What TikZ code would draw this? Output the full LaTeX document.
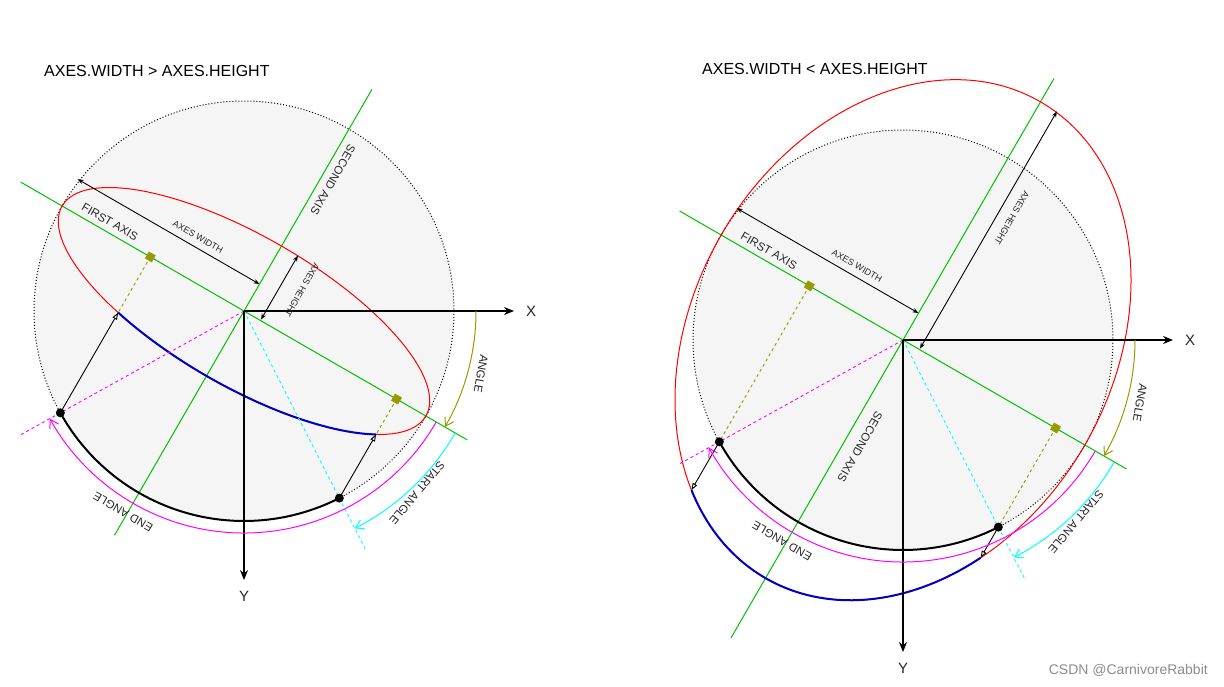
\documentclass[tikz,border=0pt]{standalone}
\usepackage{fontspec}
\setmainfont{Liberation Sans}
\usetikzlibrary{arrows.meta}
\definecolor{gr}{HTML}{00C000}
\definecolor{ol}{HTML}{999900}
\definecolor{bl}{HTML}{0000C0}
\definecolor{mg}{HTML}{FF00FF}
\definecolor{cy}{HTML}{00FFFF}
\tikzset{
  axisarrow/.style={line width=1.2pt,-{Stealth[length=10pt,width=8pt]}},
  dimarrow/.style={line width=0.9pt,{Stealth[length=6pt,width=4.5pt]}-{Stealth[length=6pt,width=4.5pt]}},
  projarrow/.style={line width=0.9pt,-{Triangle[open,length=7pt,width=5pt]}},
  anglearc/.style={line width=1pt,-{Straight Barb[length=8pt,width=10pt]}},
  lab/.style={font=\fontsize{11.5}{13}\selectfont,text=black!85,inner sep=0pt},
  smalllab/.style={font=\fontsize{9}{10}\selectfont,text=black!85,inner sep=0pt},
  dotpt/.style={circle,fill=black,inner sep=0pt,minimum size=9pt},
  sq/.style={fill=ol,inner sep=0pt,minimum size=8pt,rotate=-30},
}
\newcommand{\mydiag}[6]{% cx cy b ylen secondaxis dashedtarget
\begin{scope}[shift={(#1,#2)}]
  \coordinate (C) at (0,0);
  \fill[black!4] (C) circle[radius=210];
  \draw[dotted,line width=1pt] (C) circle[radius=210];
  \begin{scope}[rotate=-30]
    \draw[gr,line width=1pt] (-258,0) coordinate (fa1) -- (258,0) coordinate (fa2);
    #5
    \draw[red,line width=1pt] (C) ellipse[x radius=210,y radius=#3];
    \draw[bl,line width=2pt] plot[domain=33:121,samples=60] ({210*cos(\x)},{#3*sin(\x)});
    \coordinate (P1) at ({210*cos(121)},{210*sin(121)});
    \coordinate (P2) at ({210*cos(33)},{210*sin(33)});
    \coordinate (E1) at ({210*cos(121)},{#3*sin(121)});
    \coordinate (E2) at ({210*cos(33)},{#3*sin(33)});
    \coordinate (S1) at ({210*cos(121)},0);
    \coordinate (S2) at ({210*cos(33)},0);
    \coordinate (W1) at (-210,-31);
    \coordinate (W2) at (0,-31);
    \coordinate (H1) at (19,-1);
    \coordinate (H2) at (19,{-#3});
  \end{scope}
  \draw[mg,dashed,line width=0.9pt] (C) -- (151:256) coordinate (md);
  \draw[cy,dashed,line width=0.9pt] (C) -- (63:268) coordinate (cd);
  \draw[line width=2pt] plot[domain=63:151,samples=60] ({210*cos(\x)},{210*sin(\x)});
  \draw[ol,dashed,line width=0.9pt] (S1) -- (#61) (S2) -- (#62);
  \node[sq] (sq1) at (S1) {};
  \node[sq] (sq2) at (S2) {};
  \draw[projarrow] (P1) -- (E1);
  \draw[projarrow] (P2) -- (E2);
  \node[dotpt] (d1) at (P1) {};
  \node[dotpt] (d2) at (P2) {};
  \draw[dimarrow] (W1) -- (W2);
  \draw[dimarrow] (H1) -- (H2);
  \draw[axisarrow] (C) -- (270,0) coordinate (xe);
  \node[lab,font=\fontsize{15}{17}\selectfont] (xl) at (287,0) {X};
  \draw[axisarrow] (C) -- (0,#4) coordinate (ye);
  \node[lab,font=\fontsize{15}{17}\selectfont] (yl) at (0,{#4+16}) {Y};
  \draw[ol,anglearc] (0:232) arc[start angle=0,end angle=30,radius=232];
  \draw[mg,anglearc] (30:222) arc[start angle=30,end angle=151,radius=222];
  \draw[cy,anglearc] (30:244) arc[start angle=30,end angle=63,radius=244];
  \node[lab,rotate=-30] (fal) at (-134,-89) {FIRST AXIS};
  \node[smalllab,rotate=-30] (awl) at (-46,-74) {AXES WIDTH};
  \node[lab,rotate=-100] (agl) at (237,63) {ANGLE};
  \node[lab,rotate=-130] (sal) at (173,182) {START ANGLE};
  \node[lab,rotate=150] (eal) at (-121,201) {END ANGLE};
\end{scope}}
\begin{document}
\begin{tikzpicture}[x=1pt,y=-1pt]
\useasboundingbox (0,0) rectangle (1224,687);
\node[anchor=west,font=\fontsize{16}{18}\selectfont,inner sep=0pt] (t1) at (44,71) {AXES.WIDTH > AXES.HEIGHT};
\node[anchor=west,font=\fontsize{16}{18}\selectfont,inner sep=0pt] (t2) at (702,69) {AXES.WIDTH < AXES.HEIGHT};
\mydiag{244}{311}{75}{269}{\draw[gr,line width=1pt] (0,-256) -- (0,259);}{E}
\node[lab,rotate=-120] (sa1) at (333,180) {SECOND AXIS};
\node[smalllab,rotate=-120] (ah1) at (302,290) {AXES HEIGHT};
\mydiag{903}{340}{275}{312}{\draw[gr,line width=1pt] (0,-302) -- (0,344);}{P}
\node[lab,rotate=-120] (sa2) at (860,447) {SECOND AXIS};
\node[smalllab,rotate=-120] (ah2) at (1012,218) {AXES HEIGHT};
\node[anchor=east,font=\fontsize{14}{16}\selectfont,text=black!45,inner sep=0pt] (wm) at (1208,670) {CSDN @CarnivoreRabbit};
\end{tikzpicture}
\end{document}
